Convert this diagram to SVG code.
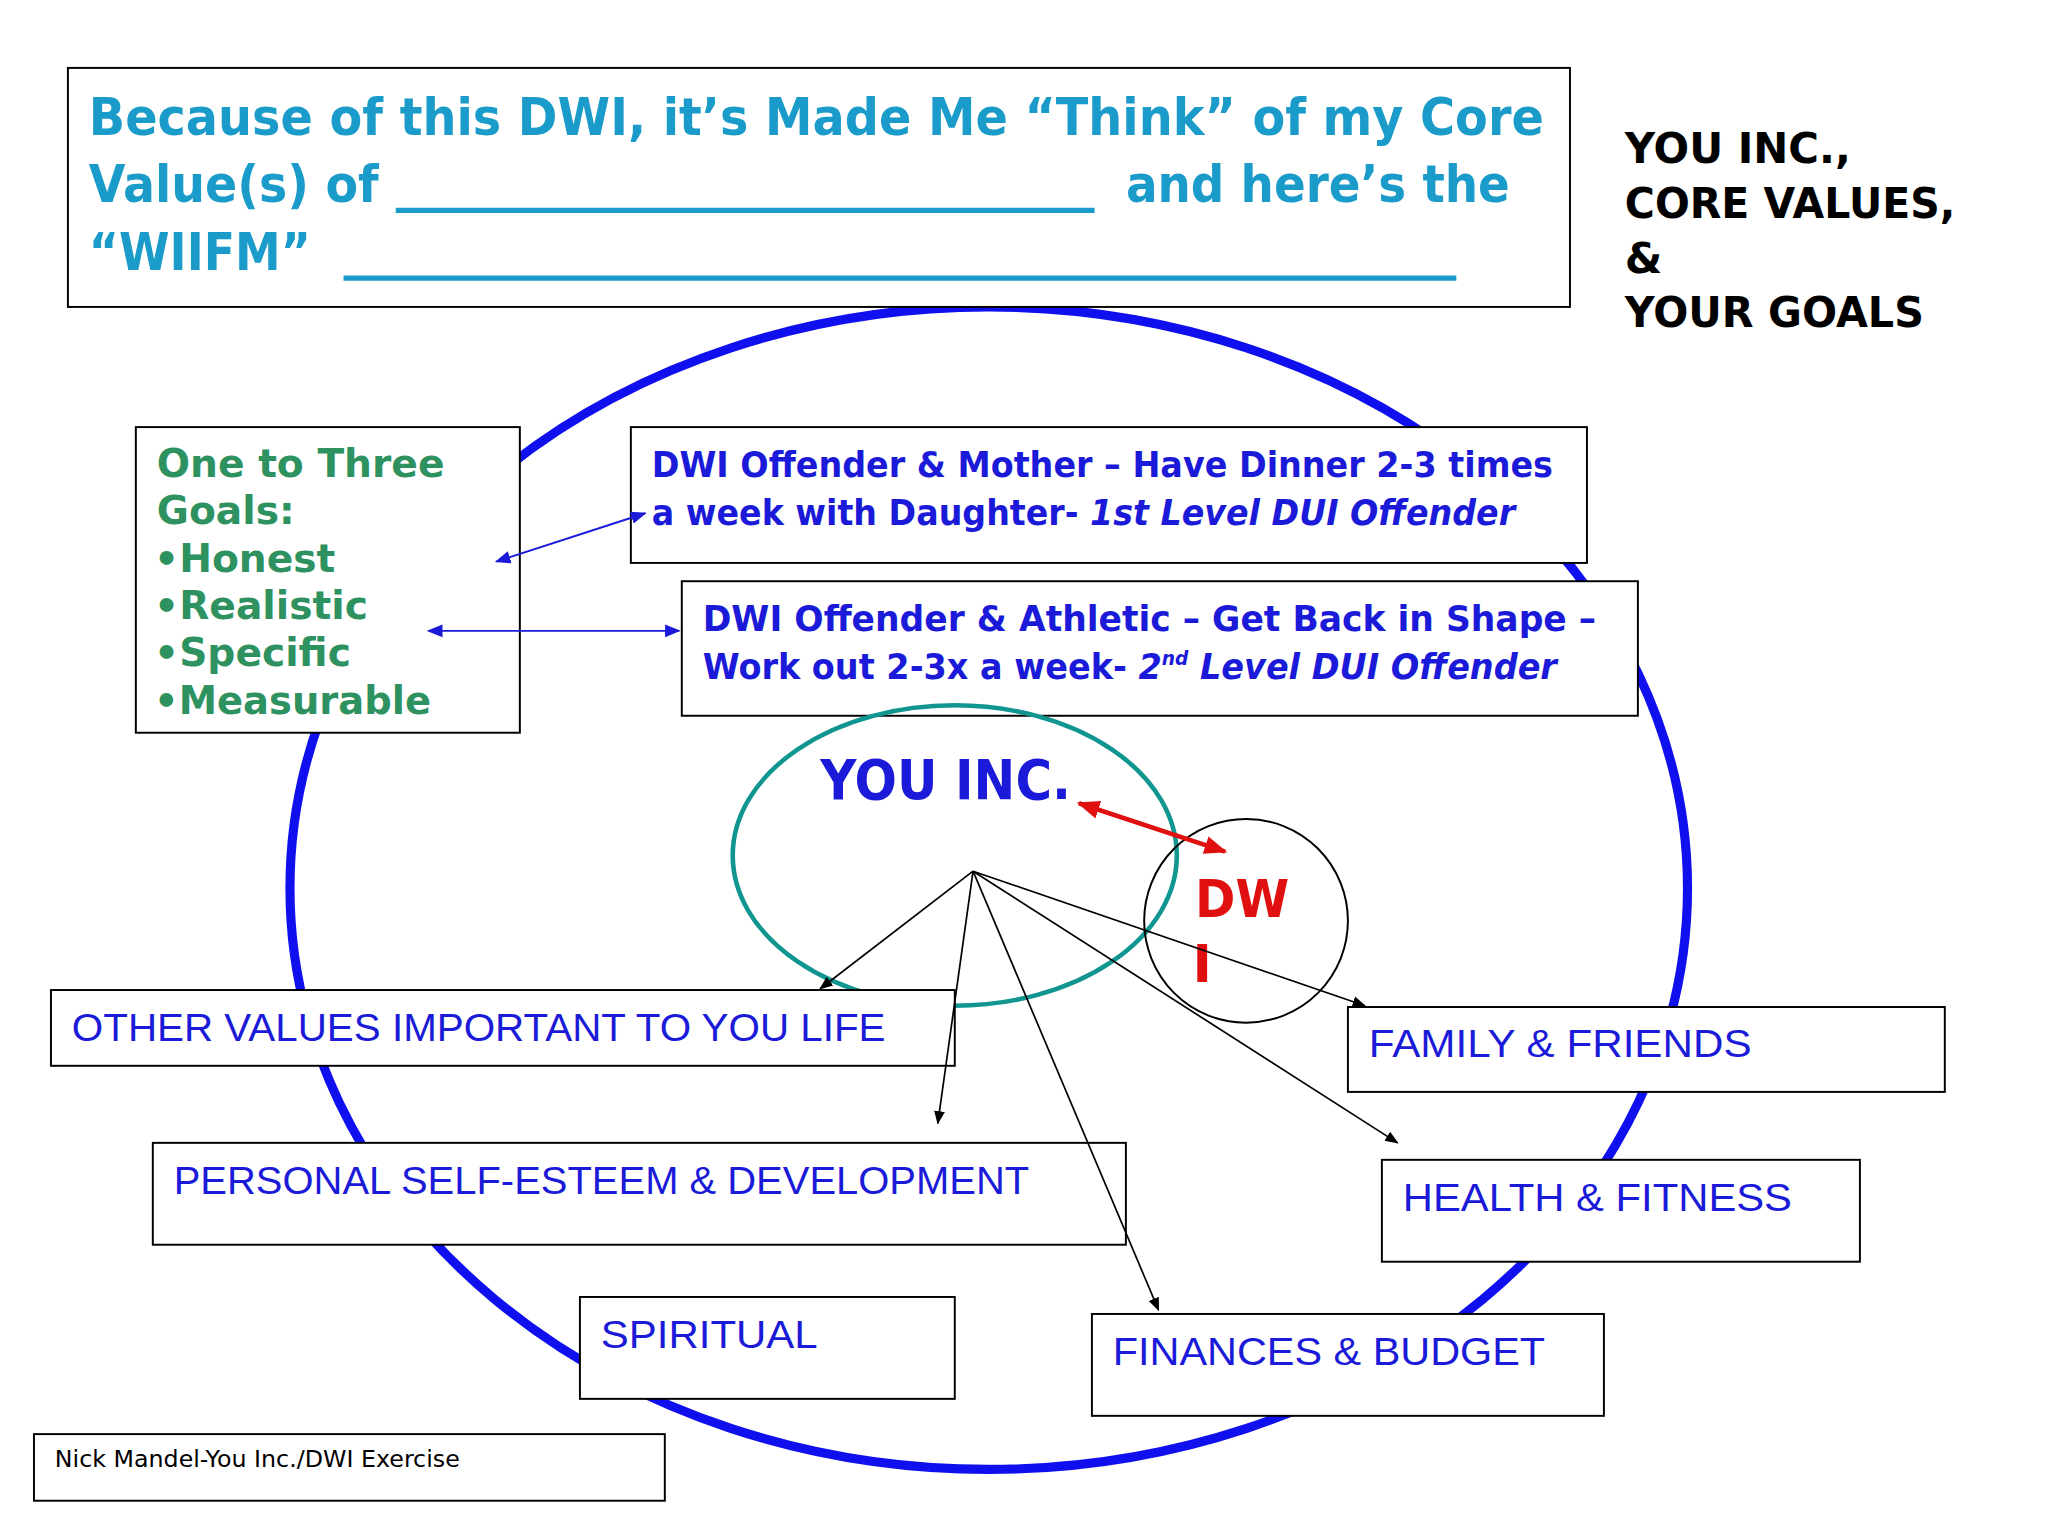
<svg xmlns="http://www.w3.org/2000/svg" width="2048" height="1536" viewBox="0 0 2048 1536">
<style>
.box{fill:#fff;stroke:#000;stroke-width:1.5}
.t{font-family:"DejaVu Sans",Verdana,sans-serif;font-weight:bold}
.title{fill:#1a9bc9;font-size:40px}
.goal{fill:#2e9160;font-size:30px}
.bl{fill:#1a1ad8;font-size:27px}
.lab{font-family:"Liberation Sans",Arial,sans-serif;fill:#1a1ad8;font-size:30px}
.c{stroke:#000;stroke-width:1.3;fill:none;marker-end:url(#ak)}
.b{stroke:#1a1ad8;stroke-width:1.5;fill:none;marker-end:url(#ab);marker-start:url(#ab)}
</style>
<defs>
<marker id="ak" viewBox="0 0 10 10" refX="9" refY="5" markerWidth="8" markerHeight="8" orient="auto-start-reverse"><path d="M0,1 L10,5 L0,9 z" fill="#000"/></marker>
<marker id="ab" viewBox="0 0 10 10" refX="9" refY="5" markerWidth="8" markerHeight="8" orient="auto-start-reverse"><path d="M0,1 L10,5 L0,9 z" fill="#1a1ad8"/></marker>
<marker id="ar" viewBox="0 0 10 10" refX="9" refY="5" markerWidth="5" markerHeight="5" orient="auto-start-reverse"><path d="M0,1 L10,5 L0,9 z" fill="#e01010"/></marker>
</defs>
<rect width="2048" height="1536" fill="#fff"/>
<g transform="scale(1.30612)">
<ellipse cx="757" cy="680" rx="535" ry="445" fill="none" stroke="#1010ee" stroke-width="7"/>
<g id="title"><rect class="box" x="52" y="52" width="1150" height="183"/>
<text class="t title" x="68" y="103" textLength="1114" lengthAdjust="spacingAndGlyphs">Because of this DWI, it’s Made Me “Think” of my Core</text>
<text class="t title" x="68" y="155" textLength="222" lengthAdjust="spacingAndGlyphs">Value(s) of</text>
<text class="t title" x="862" y="155" textLength="294" lengthAdjust="spacingAndGlyphs">and here’s the</text>
<text class="t title" x="68" y="207" textLength="170" lengthAdjust="spacingAndGlyphs">“WIIFM”</text>
<line x1="303" y1="161" x2="838" y2="161" stroke="#1a9bc9" stroke-width="4"/>
<line x1="263" y1="213" x2="1115" y2="213" stroke="#1a9bc9" stroke-width="4"/></g>
<g id="heading" class="t" font-size="33" fill="#000">
<text x="1244" y="125" textLength="173" lengthAdjust="spacingAndGlyphs">YOU INC.,</text><text x="1244" y="167" textLength="253" lengthAdjust="spacingAndGlyphs">CORE VALUES,</text><text x="1244" y="209">&amp;</text><text x="1244" y="250" textLength="229" lengthAdjust="spacingAndGlyphs">YOUR GOALS</text></g>
<g id="goals"><rect class="box" x="104" y="327" width="294" height="234"/>
<g class="t goal"><text x="120" y="365">One to Three</text><text x="120" y="401">Goals:</text><text x="118" y="438">•Honest</text><text x="118" y="474">•Realistic</text><text x="118" y="510">•Specific</text><text x="118" y="547" textLength="212" lengthAdjust="spacingAndGlyphs">•Measurable</text></g></g>
<g id="mother"><rect class="box" x="483" y="327" width="732" height="104"/>
<text class="t bl" x="499" y="365" textLength="690" lengthAdjust="spacingAndGlyphs">DWI Offender &amp; Mother – Have Dinner 2-3 times</text>
<text class="t bl" x="499" y="402" textLength="661" lengthAdjust="spacingAndGlyphs">a week with Daughter- <tspan font-style="italic">1st Level DUI Offender</tspan></text></g>
<g id="athletic"><rect class="box" x="522" y="445" width="732" height="103"/>
<text class="t bl" x="538" y="483" textLength="684" lengthAdjust="spacingAndGlyphs">DWI Offender &amp; Athletic  – Get Back in Shape –</text>
<text class="t bl" x="538" y="520" textLength="654" lengthAdjust="spacingAndGlyphs">Work out 2-3x a week- <tspan font-style="italic">2<tspan font-size="15" dy="-11">nd</tspan><tspan dy="11"> Level DUI Offender</tspan></tspan></text></g>
<g id="youinc"><ellipse cx="731" cy="655" rx="170" ry="115" fill="none" stroke="#109590" stroke-width="3.5"/>
<text class="t" x="628" y="612" font-size="42" fill="#1a1ad8" textLength="192" lengthAdjust="spacingAndGlyphs">YOU INC.</text></g>
<g id="dwi"><circle cx="954" cy="705" r="78" fill="none" stroke="#000" stroke-width="1.5"/>
<text class="t" x="915" y="702" font-size="40" fill="#e01010" textLength="72" lengthAdjust="spacingAndGlyphs">DW</text><text class="t" x="913" y="752" font-size="40" fill="#e01010">I</text></g>
<g id="other"><rect class="box" x="39" y="758" width="692" height="58"/><text class="lab" x="55" y="797" textLength="623" lengthAdjust="spacingAndGlyphs">OTHER VALUES IMPORTANT TO YOU LIFE</text></g>
<g id="personal"><rect class="box" x="117" y="875" width="745" height="78"/><text class="lab" x="133" y="914" textLength="655" lengthAdjust="spacingAndGlyphs">PERSONAL SELF-ESTEEM &amp; DEVELOPMENT</text></g>
<g id="spiritual"><rect class="box" x="444" y="993" width="287" height="78"/><text class="lab" x="460" y="1032" textLength="166" lengthAdjust="spacingAndGlyphs">SPIRITUAL</text></g>
<g id="finances"><rect class="box" x="836" y="1006" width="392" height="78"/><text class="lab" x="852" y="1045" textLength="331" lengthAdjust="spacingAndGlyphs">FINANCES &amp; BUDGET</text></g>
<g id="family"><rect class="box" x="1032" y="771" width="457" height="65"/><text class="lab" x="1048" y="809" textLength="293" lengthAdjust="spacingAndGlyphs">FAMILY &amp; FRIENDS</text></g>
<g id="health"><rect class="box" x="1058" y="888" width="366" height="78"/><text class="lab" x="1074" y="927" textLength="298" lengthAdjust="spacingAndGlyphs">HEALTH &amp; FITNESS</text></g>
<g id="footer"><rect class="box" x="26" y="1098" width="483" height="51"/><text x="42" y="1123" font-family="'DejaVu Sans',Verdana,sans-serif" font-size="17" textLength="310" lengthAdjust="spacingAndGlyphs">Nick Mandel-You Inc./DWI Exercise</text></g>
<g id="connectors">
<line class="b" x1="380" y1="430" x2="494" y2="393"/>
<line class="b" x1="328" y1="483" x2="520" y2="483"/>
<line x1="826" y1="615" x2="938" y2="652" stroke="#e01010" stroke-width="3.5" marker-start="url(#ar)" marker-end="url(#ar)"/>
<line class="c" x1="745" y1="667" x2="628" y2="757"/>
<line class="c" x1="745" y1="667" x2="718" y2="860"/>
<line class="c" x1="745" y1="667" x2="887" y2="1003"/>
<line class="c" x1="745" y1="667" x2="1045" y2="770"/>
<line class="c" x1="745" y1="667" x2="1070" y2="875"/>
</g>
</g>
</svg>
